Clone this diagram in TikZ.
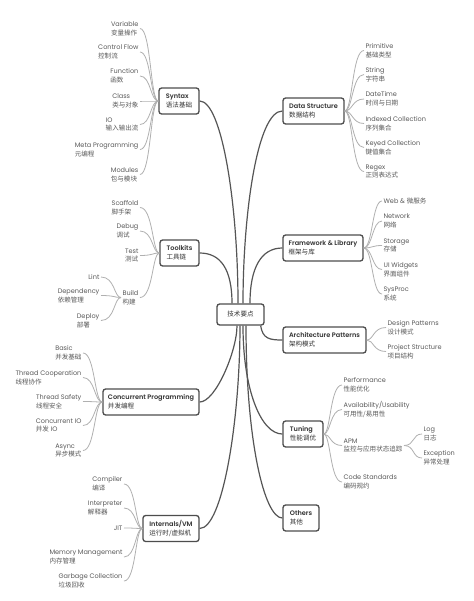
\documentclass[tikz,border=0pt]{standalone}
\usepackage{fontspec}
\setmainfont{Poppins}[BoldFont={Poppins SemiBold}]
\newfontfamily\cjk{Noto Sans CJK SC}
\usetikzlibrary{calc}
\newcommand\zh[1]{{\cjk #1}}
\definecolor{boxc}{HTML}{4D4D4D}
\definecolor{mainc}{HTML}{555555}
\definecolor{leafc}{HTML}{B0B0B0}
\definecolor{txtc}{HTML}{5A5A5A}
\definecolor{ttlc}{HTML}{333333}
\begin{document}
\begin{tikzpicture}[x=0.75pt,y=-0.75pt,
  topic/.style={draw=boxc,line width=1pt,rounded corners=2pt,fill=white,
    align=left,text=ttlc,inner sep=0pt,minimum height=19.5pt,
    font=\fontsize{4.9}{6.6}\selectfont},
  center/.style={topic,align=center,minimum height=15.75pt,minimum width=35.25pt},
  lleaf/.style={anchor=east,align=left,text=txtc,inner xsep=1pt,inner ysep=0.5pt,
    font=\fontsize{4.9}{6.6}\selectfont},
  rleaf/.style={lleaf,anchor=west},
  mainline/.style={draw=mainc,line width=0.9pt},
  leafline/.style={draw=leafc,line width=0.6pt}]
\useasboundingbox[fill=white] (0,0) rectangle (474,601);

% central
\node[center] (c) at (240.5,314.5) {\zh{技术要点}};

% topics
\node[topic,minimum width=30pt] (syn) at (179,101) {\textbf{Syntax}\\\zh{语法基础}};
\node[topic,minimum width=45.75pt] (ds) at (313.5,111) {\textbf{Data Structure}\\\zh{数据结构}};
\node[topic,minimum width=29.25pt] (tk) at (179.5,253) {\textbf{Toolkits}\\\zh{工具链}};
\node[topic,minimum width=60pt] (fw) at (323,248) {\textbf{Framework \& Library}\\\zh{框架与库}};
\node[topic,minimum width=62.25pt] (ar) at (324.5,340) {\textbf{Architecture Patterns}\\\zh{架构模式}};
\node[topic,minimum width=72pt] (cp) at (151,402) {\textbf{Concurrent Programming}\\\zh{并发编程}};
\node[topic,minimum width=30pt] (tu) at (303,434) {\textbf{Tuning}\\\zh{性能调优}};
\node[topic,minimum width=27pt] (ot) at (301,518) {\textbf{Others}\\\zh{其他}};
\node[topic,minimum width=42pt] (iv) at (171,528.5) {\textbf{Internals/VM}\\\zh{运行时/虚拟机}};

% main connectors
\draw[mainline] (syn.east) .. controls +(22,0) and +(0,-100) .. ($(c.north)+(-2.5,0)$);
\draw[mainline] (tk.east) .. controls +(21,0) and +(0,-34) .. ($(c.north)+(-8.5,0)$);
\draw[mainline] (ds.west) .. controls +(-25,0) and +(0,-90) .. ($(c.north)+(2.5,0)$);
\draw[mainline] (fw.west) .. controls +(-21,0) and +(0,-36) .. ($(c.north)+(9.5,0)$);
\draw[mainline] ($(c.south)+(-3.5,0)$) .. controls +(0,25) and +(16,0) .. (cp.east);
\draw[mainline] ($(c.south)+(-0.5,0)$) .. controls +(0,95) and +(23,0) .. (iv.east);
\draw[mainline] ($(c.south)+(2.5,0)$) .. controls +(0,65) and +(-21,0) .. (tu.west);
\draw[mainline] ($(c.south)+(5.5,0)$) .. controls +(0,115) and +(-18,0) .. (ot.west);
\draw[mainline] ($(c.south east)+(-4,0)$) .. controls +(2,13) and +(-13,0) .. (ar.west);

% Syntax leaves
\foreach \n/\y/\t in {sv/28.5/{Variable\\\zh{变量操作}}, sc/52/{Control Flow\\\zh{控制流}},
  sf/76/{Function\\\zh{函数}}, scl/101/{Class\\\zh{类与对象}}, sio/124.5/{IO\\\zh{输入输出流}},
  sm/149.5/{Meta Programming\\\zh{元编程}}, smo/174.5/{Modules\\\zh{包与模块}}}{
  \node[lleaf] (\n) at (140,\y) {\t};
  \draw[leafline] (syn.west) .. controls +(-8,0) and +(11,0) .. (\n.east);
}

% Toolkits leaves
\foreach \n/\y/\t in {ts/207.5/{Scaffold\\\zh{脚手架}}, td/231/{Debug\\\zh{调试}},
  tt/255.5/{Test\\\zh{测试}}, tb/297.5/{Build\\\zh{构建}}}{
  \node[lleaf] (\n) at (140,\y) {\t};
  \draw[leafline] (tk.west) .. controls +(-7,0) and +(13,0) .. (\n.east);
}
\foreach \n/\y/\t in {bl/277/{Lint}, bd/295.5/{Dependency\\\zh{依赖管理}},
  bp/320.5/{Deploy\\\zh{部署}}}{
  \node[lleaf] (\n) at (101,\y) {\t};
  \draw[leafline] (tb.west) .. controls +(-7,0) and +(14,0) .. (\n.east);
}

% Concurrent leaves
\foreach \n/\y/\t in {cb/353/{Basic\\\zh{并发基础}}, cc/377.5/{Thread Cooperation\\\zh{线程协作}},
  cs/401.5/{Thread Safety\\\zh{线程安全}}, ci/425.5/{Concurrent IO\\\zh{并发} IO},
  ca/450.5/{Async\\\zh{异步模式}}}{
  \node[lleaf] (\n) at (83,\y) {\t};
  \draw[leafline] (cp.west) .. controls +(-8,0) and +(12,0) .. (\n.east);
}

% Internals leaves
\foreach \n/\y/\t in {ic/484/{Compiler\\\zh{编译}}, ii/508/{Interpreter\\\zh{解释器}},
  ij/528/{JIT}, im/557/{Memory Management\\\zh{内存管理}},
  ig/581/{Garbage Collection\\\zh{垃圾回收}}}{
  \node[lleaf] (\n) at (124,\y) {\t};
  \draw[leafline] (iv.west) .. controls +(-7,0) and +(12,0) .. (\n.east);
}

% Data Structure leaves
\foreach \n/\y/\t in {dp/50.5/{Primitive\\\zh{基础类型}}, dstr/74.5/{String\\\zh{字符串}},
  ddt/99/{DateTime\\\zh{时间与日期}}, dic/123.5/{Indexed Collection\\\zh{序列集合}},
  dkc/147.5/{Keyed Collection\\\zh{键值集合}}, drx/171.5/{Regex\\\zh{正则表达式}}}{
  \node[rleaf] (\n) at (364,\y) {\t};
  \draw[leafline] (ds.east) .. controls +(8,0) and +(-12,0) .. (\n.west);
}

% Framework leaves
\foreach \n/\y/\t in {fwb/201/{Web \& \zh{微服务}}, fn/221/{Network\\\zh{网络}},
  fs/245.5/{Storage\\\zh{存储}}, fu/269.5/{UI Widgets\\\zh{界面组件}},
  fsp/294/{SysProc\\\zh{系统}}}{
  \node[rleaf] (\n) at (382,\y) {\t};
  \draw[leafline] (fw.east) .. controls +(9,0) and +(-10,0) .. (\n.west);
}

% Architecture leaves
\foreach \n/\y/\t in {adp/327.5/{Design Patterns\\\zh{设计模式}},
  aps/351.5/{Project Structure\\\zh{项目结构}}}{
  \node[rleaf] (\n) at (386,\y) {\t};
  \draw[leafline] (ar.east) .. controls +(7,0) and +(-13,0) .. (\n.west);
}

% Tuning leaves
\foreach \n/\y/\t in {up/385/{Performance\\\zh{性能优化}},
  ua/409.5/{Availability/Usability\\\zh{可用性/易用性}},
  um/445.5/{APM\\\zh{监控与应用状态追踪}}, uc/482/{Code Standards\\\zh{编码规约}}}{
  \node[rleaf] (\n) at (342,\y) {\t};
  \draw[leafline] (tu.east) .. controls +(7,0) and +(-12,0) .. (\n.west);
}
\foreach \n/\y/\t in {ml/434/{Log\\\zh{日志}}, me/458/{Exception\\\zh{异常处理}}}{
  \node[rleaf] (\n) at (422,\y) {\t};
  \draw[leafline] (um.east) .. controls +(11,0) and +(-10,0) .. (\n.west);
}
\end{tikzpicture}
\end{document}
